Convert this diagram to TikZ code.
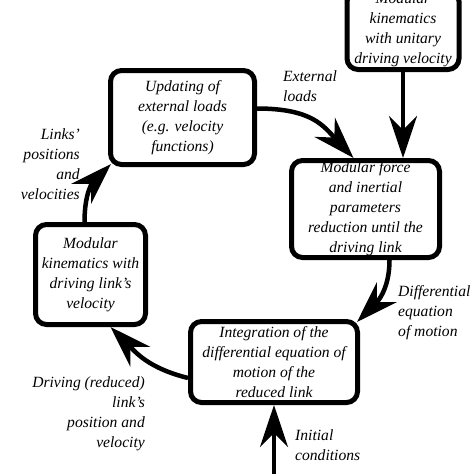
\documentclass[tikz,border=0pt]{standalone}
\usepackage{fontspec}
\setmainfont{Liberation Serif}
\usetikzlibrary{arrows.meta}
\begin{document}
\begin{tikzpicture}[x=1pt,y=1pt,
  box/.style={draw, line width=5pt, rounded corners=11pt, inner sep=0pt, align=center,
    font=\fontsize{15.6}{20}\selectfont\itshape},
  lbl/.style={inner sep=0pt, font=\fontsize{15.6}{20}\selectfont\itshape},
  flow/.style={line width=4.5pt, -{Stealth[length=42pt,width=28pt,inset=14pt]}}]
\clip (0,0) rectangle (474,-474);
\useasboundingbox (0,0) rectangle (474,-474);
\node[box, minimum width=112pt, minimum height=79pt] (top) at (403,-30){Modular\\kinematics\\with unitary\\driving velocity};
\node[box, minimum width=144pt, minimum height=94pt] (upd) at (182.5,-117.5){Updating of\\external loads\\(e.g. velocity\\functions)};
\node[box, minimum width=148pt, minimum height=97pt] (force) at (365.5,-209){Modular force\\and inertial\\parameters\\reduction until the\\driving link};
\node[box, minimum width=110pt, minimum height=100pt] (kin) at (90.5,-274.5){Modular\\kinematics with\\driving link's\\velocity};
\node[box, minimum width=167pt, minimum height=81pt] (integ) at (274,-362){Integration of the\\differential equation of\\motion of the\\reduced link};
\node[lbl, anchor=west, align=left] (extl) at (283,-86.5){External\\loads};
\node[lbl, anchor=east, align=right] (links) at (80,-164){Links'\\positions\\and\\velocities};
\node[lbl, anchor=west, align=left] (diffeq) at (398,-313){Differential\\equation\\of motion};
\node[lbl, anchor=east, align=right] (drv) at (145,-414){Driving (reduced)\\link's\\position and\\velocity};
\node[lbl, anchor=west, align=left] (init) at (295,-445){Initial\\conditions};
\coordinate (ic) at (274,-490);
\draw[flow] (top.south) -- (top.south |- force.north);
\draw[flow] ([yshift=9pt]upd.east) .. controls +(55,0) and +(-30,32) .. ([xshift=-12pt]force.north);
\draw[flow] ([xshift=-6pt]kin.north) .. controls +(0,30) and +(-18,-18) .. ([shift={(3pt,3pt)}]upd.south west);
\draw[flow] ([xshift=24pt]force.south) .. controls +(0,-32) and +(18,18) .. ([shift={(-3pt,-3pt)}]integ.north east);
\draw[flow] ([yshift=-16pt]integ.west) .. controls +(-40,10) and +(25,-25) .. ([xshift=20pt]kin.south);
\draw[flow] (ic) -- (integ.south);
\end{tikzpicture}
\end{document}
